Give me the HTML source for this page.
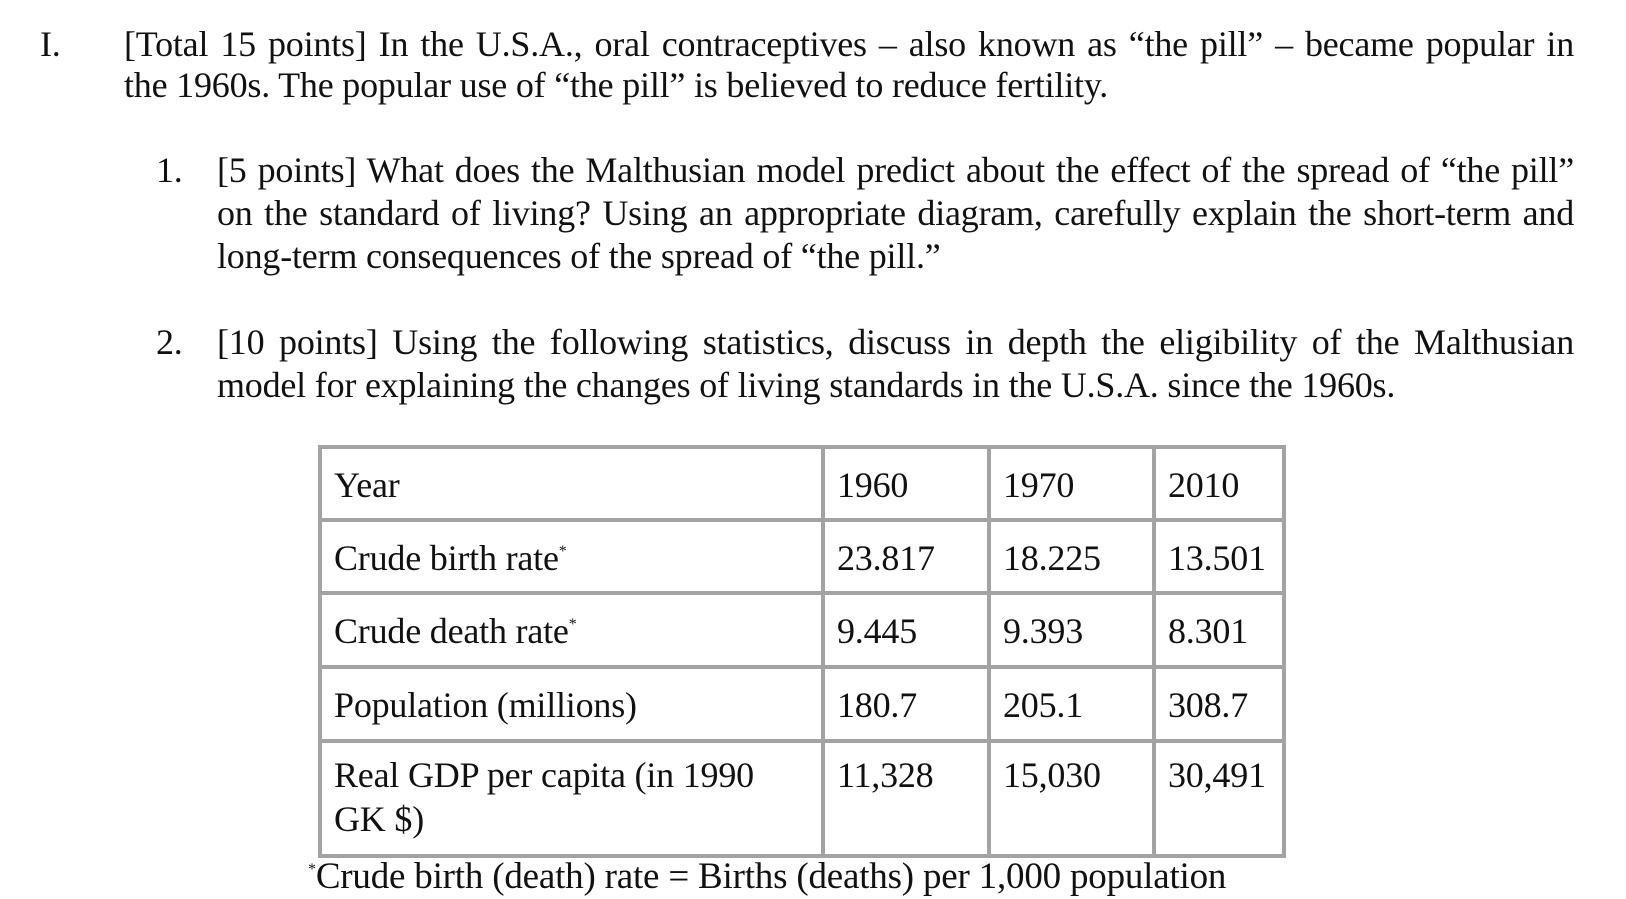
<!DOCTYPE html>
<html><head><meta charset="utf-8"><style>
body{margin:0;width:1626px;height:899px;background:#fff;position:relative;overflow:hidden;font-family:"Liberation Serif",serif;color:#111}
.l{position:absolute;font-size:36px;line-height:36px;white-space:nowrap;letter-spacing:-0.2px}
.j{text-align:justify;text-align-last:justify;white-space:normal}
table{position:absolute;left:318px;top:445px;border-collapse:collapse;font-size:36px;letter-spacing:-0.2px}
td{border:4px solid #a3a3a3;padding:0 0 0 12px;vertical-align:top;line-height:44px;box-sizing:border-box}
.s{font-size:16px;position:relative;top:-14px;line-height:0;vertical-align:baseline}
</style></head><body>
<div class="l" style="left:40px;top:26px">I.</div>
<div class="l j" style="left:124px;top:26px;width:1450px">[Total 15 points] In the U.S.A., oral contraceptives – also known as “the pill” – became popular in</div>
<div class="l" style="left:124px;top:67px">the 1960s. The popular use of “the pill” is believed to reduce fertility.</div>

<div class="l" style="left:156px;top:152px">1.</div>
<div class="l j" style="left:217px;top:152px;width:1357px">[5 points] What does the Malthusian model predict about the effect of the spread of “the pill”</div>
<div class="l j" style="left:217px;top:195px;width:1357px">on the standard of living? Using an appropriate diagram, carefully explain the short-term and</div>
<div class="l" style="left:217px;top:238px">long-term consequences of the spread of “the pill.”</div>

<div class="l" style="left:156px;top:324px">2.</div>
<div class="l j" style="left:217px;top:324px;width:1357px">[10 points] Using the following statistics, discuss in depth the eligibility of the Malthusian</div>
<div class="l" style="left:217px;top:367px">model for explaining the changes of living standards in the U.S.A. since the 1960s.</div>

<table>
<tr style="height:73px"><td style="width:503px;padding-top:14px">Year</td><td style="width:166px;padding-top:14px">1960</td><td style="width:165px;padding-top:14px">1970</td><td style="width:130px;padding-top:14px">2010</td></tr>
<tr style="height:73px"><td style="padding-top:14px">Crude birth rate<span class="s">*</span></td><td style="padding-top:14px">23.817</td><td style="padding-top:14px">18.225</td><td style="padding-top:14px">13.501</td></tr>
<tr style="height:74px"><td style="padding-top:14px">Crude death rate<span class="s">*</span></td><td style="padding-top:14px">9.445</td><td style="padding-top:14px">9.393</td><td style="padding-top:14px">8.301</td></tr>
<tr style="height:74px"><td style="padding-top:14px">Population (millions)</td><td style="padding-top:14px">180.7</td><td style="padding-top:14px">205.1</td><td style="padding-top:14px">308.7</td></tr>
<tr style="height:115px"><td style="padding-top:10px;line-height:44px">Real GDP per capita (in 1990<br>GK $)</td><td style="padding-top:10px">11,328</td><td style="padding-top:10px">15,030</td><td style="padding-top:10px">30,491</td></tr>
</table>
<div class="l" style="left:308px;top:859px;font-size:37px"><span class="s">*</span>Crude birth (death) rate = Births (deaths) per 1,000 population</div>
</body></html>
